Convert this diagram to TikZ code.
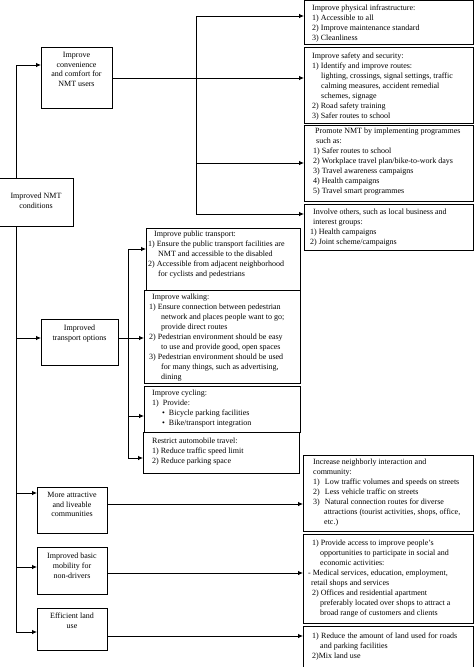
\documentclass[tikz,border=0pt]{standalone}
\usepackage{fontspec}
\setmainfont{Liberation Serif}
\usetikzlibrary{arrows.meta}
\newcommand{\cnt}[1][9pt]{\hspace*{#1}}
\tikzset{
  box/.style={draw, line width=0.8pt, fill=white, inner sep=0pt, outer sep=0pt, anchor=north west},
  txt/.style={inner sep=0pt, anchor=north west, align=left, font=\fontsize{8}{10}\selectfont},
  ctxt/.style={inner sep=0pt, anchor=north, align=center, font=\fontsize{8}{9.7}\selectfont},
  ln/.style={line width=0.8pt},
  arr/.style={line width=0.8pt, -{Latex[length=5pt,width=4.5pt]}},
}
\begin{document}
\begin{tikzpicture}[x=1pt,y=1pt]
\useasboundingbox (0,0) rectangle (474,-667);
% ---- right column (top) ----
\node[box, minimum width=169pt, minimum height=43.5pt] (R1) at (304,-0.5) {};
\node[box, minimum width=169pt, minimum height=76pt] (R2) at (304,-47) {};
\node[box, minimum width=169pt, minimum height=76pt] (R3) at (304,-125) {};
\node[box, minimum width=169pt, minimum height=46pt] (R4) at (304,-204) {};
\node[txt] (R1t) at (312,-5) {Improve physical infrastructure:\\1) Accessible to all\\2) Improve maintenance standard\\3) Cleanliness};
\node[txt] (R2t) at (312,-53) {Improve safety and security:\\1) Identify and improve routes:\\\cnt lighting, crossings, signal settings, traffic\\\cnt calming measures, accident remedial\\\cnt schemes, signage\\2) Road safety training\\3) Safer routes to school};
\node[txt] (R3t) at (313,-128) {\cnt[2pt]Promote NMT by implementing programmes\\\cnt[3pt]such as:\\1) Safer routes to school\\2) Workplace travel plan/bike-to-work days\\3) Travel awareness campaigns\\4) Health campaigns\\5) Travel smart programmes};
\node[txt] (R4t) at (310,-209) {\cnt[3pt]Involve others, such as local business and\\\cnt[3pt]interest groups:\\1) Health campaigns\\2) Joint scheme/campaigns};
% ---- middle column ----
\node[box, minimum width=154pt, minimum height=62pt] (T1) at (146,-228) {};
\node[box, minimum width=156pt, minimum height=93pt] (T2) at (144,-290) {};
\node[box, minimum width=156pt, minimum height=46pt] (T3) at (144,-386) {};
\node[box, minimum width=156pt, minimum height=41pt] (T4) at (143,-432) {};
\node[txt] (T1t) at (148,-231) {\cnt[6pt]Improve public transport:\\1) Ensure the public transport facilities are\\\cnt[10pt]NMT and accessible to the disabled\\2) Accessible from adjacent neighborhood\\\cnt[10pt]for cyclists and pedestrians};
\node[txt] (T2t) at (149,-294) {\cnt[3pt]Improve walking:\\1) Ensure connection between pedestrian\\\cnt[12pt]network and places people want to go;\\\cnt[12pt]provide direct routes\\2) Pedestrian environment should be easy\\\cnt[12pt]to use and provide good, open spaces\\3) Pedestrian environment should be used\\\cnt[12pt]for many things, such as advertising,\\\cnt[12pt]dining};
\node[txt] (T3t) at (152,-390) {Improve cycling:\\1)\hspace{4pt}Provide:\\\cnt[10pt]\textbullet\hspace{4pt}Bicycle parking facilities\\\cnt[10pt]\textbullet\hspace{4pt}Bike/transport integration};
\node[txt] (T4t) at (152,-438) {Restrict automobile travel:\\1) Reduce traffic speed limit\\2) Reduce parking space};
% ---- right column (bottom) ----
\node[box, minimum width=170pt, minimum height=76pt] (S1) at (303,-455) {};
\node[box, minimum width=170pt, minimum height=89pt] (S2) at (303,-534) {};
\node[box, minimum width=170pt, minimum height=50pt] (S3) at (303,-626) {};
\node[txt] (S1t) at (313,-459) {Increase neighborly interaction and\\community:\\1)\hspace{5pt}Low traffic volumes and speeds on streets\\2)\hspace{5pt}Less vehicle traffic on streets\\3)\hspace{5pt}Natural connection routes for diverse\\\cnt[11pt]attractions (tourist activities, shops, office,\\\cnt[11pt]etc.)};
\node[txt] (S2t) at (312,-540) {1) Provide access to improve people's\\\cnt[8pt]opportunities to participate in social and\\\cnt[8pt]economic activities:\\\hspace*{-4pt}- Medical services, education, employment,\\\hspace*{-1pt}retail shops and services\\2) Offices and residential apartment\\\cnt[8pt]preferably located over shops to attract a\\\cnt[8pt]broad range of customers and clients};
\node[txt] (S3t) at (312,-633) {\makebox[145pt][s]{1) Reduce the amount of land used for roads}\\\cnt[8pt]and parking facilities\\2)Mix land use};
% ---- left column ----
\node[box, minimum width=74pt, minimum height=48pt] (M) at (-1,-178) {};
\node[box, minimum width=71pt, minimum height=61pt] (A) at (41,-47) {};
\node[box, minimum width=77pt, minimum height=46pt] (B) at (41,-319) {};
\node[box, minimum width=70pt, minimum height=46pt] (C) at (37,-487) {};
\node[box, minimum width=70pt, minimum height=47pt] (D) at (37,-547) {};
\node[box, minimum width=70pt, minimum height=42pt] (E) at (37,-608) {};
\node[ctxt] (Mt) at (36,-193) {Improved NMT\\conditions};
\node[ctxt] (At) at (76.5,-52) {Improve\\convenience\\and comfort for\\NMT users};
\node[ctxt] (Bt) at (79.5,-325) {Improved\\transport options};
\node[ctxt] (Ct) at (72,-492) {More attractive\\and liveable\\communities};
\node[ctxt] (Dt) at (72,-553) {Improved basic\\mobility for\\non-drivers};
\node[ctxt] (Et) at (72,-613) {Efficient land\\use};
% ---- bus coordinates ----
\coordinate (jA) at (16,-65);
\coordinate (jB) at (16,-338);
\coordinate (jC) at (16,-493);
\coordinate (jD) at (16,-567);
\coordinate (jE) at (16,-632);
\coordinate (k1) at (196,-16);
\coordinate (k2) at (196,-78);
\coordinate (k3) at (196,-163);
\coordinate (k4) at (196,-214);
\coordinate (m1) at (128,-249);
\coordinate (m2) at (128,-338);
\coordinate (m3) at (128,-416);
\coordinate (m4) at (128,-458);
\coordinate (n1) at (200,-504);
\coordinate (n2) at (200,-573);
\coordinate (n3) at (200,-636);
% ---- connectors ----
\draw[arr] (M.north -| jA) |- (A.west |- jA);
\draw[ln] (M.south -| jA) -- (jE);
\draw[arr] (jB) -- (B.west |- jB);
\draw[arr] (jC) -- (C.west |- jC);
\draw[arr] (jD) -- (D.west |- jD);
\draw[arr] (jE) -- (E.west |- jE);
\draw[arr] (A.east |- k2) -- (R2.west |- k2);
\draw[ln] (k1) -- (k4);
\draw[arr] (k1) -- (R1.west |- k1);
\draw[arr] (k3) -- (R3.west |- k3);
\draw[arr] (k4) -- (R4.west |- k4);
\draw[arr] (B.east |- m2) -- (T2.west |- m2);
\draw[ln] (m1) -- (m4);
\draw[arr] (m1) -- (T1.west |- m1);
\draw[arr] (m3) -- (T3.west |- m3);
\draw[arr] (m4) -- (T4.west |- m4);
\draw[arr] (C.east |- n1) -- (S1.west |- n1);
\draw[arr] (D.east |- n2) -- (S2.west |- n2);
\draw[arr] (E.east |- n3) -- (S3.west |- n3);
\end{tikzpicture}
\end{document}
